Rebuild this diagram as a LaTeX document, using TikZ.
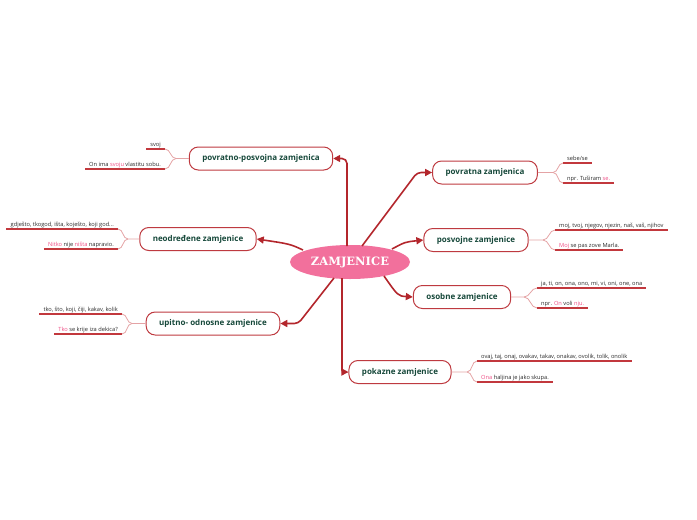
\documentclass[tikz,border=0pt]{standalone}
\usepackage{fontspec}
\setmainfont{Open Sans}
\newfontfamily\slabfont{DejaVu Serif}
\usetikzlibrary{shapes.geometric,arrows.meta,calc}
\definecolor{zpink}{HTML}{F2709C}
\definecolor{zred}{HTML}{B3262C}
\definecolor{zborder}{HTML}{BE3A40}
\definecolor{zfork}{HTML}{E4A3A5}
\definecolor{zline}{HTML}{C2383D}
\definecolor{zgreen}{HTML}{16483A}
\definecolor{zhlc}{HTML}{EE4F86}
\definecolor{zgray}{HTML}{2A2A2A}
\newcommand\zhl[1]{\textcolor{zhlc}{#1}}
\begin{document}
\begin{tikzpicture}[x=1pt,y=-1pt,
 topic/.style={draw=zborder, line width=1pt, fill=white, rounded corners=9pt, minimum height=23pt, inner xsep=13pt, font=\fontsize{8}{9}\selectfont\bfseries, text=zgreen},
 central/.style={ellipse, fill=zpink, minimum width=120pt, minimum height=34pt, inner sep=0pt, text=white, font=\slabfont\bfseries\fontsize{11.5}{13}\selectfont},
 conn/.style={draw=zred, line width=1.6pt, -{Triangle[width=7pt,length=7pt]}},
 fork/.style={draw=zfork, line width=0.8pt},
 sub/.style={font=\fontsize{5.7}{7}\selectfont, text=zgray, inner xsep=4pt, inner ysep=1.5pt, text height=4.4pt, text depth=1.3pt},
 uline/.style={draw=zline, line width=1.2pt},
]
\useasboundingbox (0,0) rectangle (697,520);

\node[central] (zc) at (350,262) {ZAMJENICE};

\node[topic] (n1) at (261,158.5) {povratno-posvojna zamjenica};
\node[topic] (n2) at (198,239) {neodređene zamjenice};
\node[topic] (n3) at (213,323.5) {upitno- odnosne zamjenice};
\node[topic] (n4) at (485,172.5) {povratna zamjenica};
\node[topic] (n5) at (476,240) {posvojne zamjenice};
\node[topic] (n6) at (462,297) {osobne zamjenice};
\node[topic] (n7) at (400,372) {pokazne zamjenice};

% connectors
\coordinate (s1) at (347,246);
\coordinate (s2) at (303,250);
\coordinate (s3) at (334,278);
\coordinate (s4) at (362,246);
\coordinate (s5) at (392,249);
\coordinate (s6) at (384,276);
\coordinate (s7) at (342,278);
\draw[conn, rounded corners=5pt] (s1) |- (n1.east);
\draw[conn] (s2) .. controls (290,244) .. (n2.east);
\draw[conn, rounded corners=4pt] (s3) -- ($(n3.east)+(18,0)$) -- (n3.east);
\draw[conn, rounded corners=4pt] (s4) -- ($(n4.west)+(-15,0)$) -- (n4.west);
\draw[conn] (s5) .. controls (405,242) .. (n5.west);
\draw[conn] (s6) .. controls (398,296) .. (n6.west);
\draw[conn, rounded corners=2pt] (s7) |- (n7.west);

% sub texts, left
\node[sub, anchor=south east] (t1a) at (165,149) {svoj};
\node[sub, anchor=south east] (t1b) at (165,169) {On ima \zhl{svoju} vlastitu sobu.};
\node[sub, anchor=south east] (t2a) at (118,229) {gdješto, tkogod, išta, koješto, koji god...};
\node[sub, anchor=south east] (t2b) at (118,249) {\zhl{Nitko} nije \zhl{ništa} napravio.};
\node[sub, anchor=south east] (t3a) at (122,314) {tko, što, koji, čiji, kakav, kolik};
\node[sub, anchor=south east] (t3b) at (122,334) {\zhl{Tko} se krije iza dekica?};
% sub texts, right
\node[sub, anchor=south west] (t4a) at (563,163) {sebe/se};
\node[sub, anchor=south west] (t4b) at (563,183) {npr. Tuširam \zhl{se.}};
\node[sub, anchor=south west] (t5a) at (555,230) {moj, tvoj, njegov, njezin, naš, vaš, njihov};
\node[sub, anchor=south west] (t5b) at (555,250) {\zhl{Moj} se pas zove Marla.};
\node[sub, anchor=south west] (t6a) at (537,288) {ja, ti, on, ona, ono, mi, vi, oni, one, ona};
\node[sub, anchor=south west] (t6b) at (537,308) {npr. \zhl{On} voli \zhl{nju.}};
\node[sub, anchor=south west] (t7a) at (477,361) {ovaj, taj, onaj, ovakav, takav, onakav, ovolik, tolik, onolik};
\node[sub, anchor=south west] (t7b) at (477,382) {\zhl{Ona} haljina je jako skupa.};

% underlines
\foreach \t in {t1a,t1b,t2a,t2b,t3a,t3b,t4a,t4b,t5a,t5b,t6a,t6b,t7a,t7b}
  \draw[uline] (\t.south west) -- (\t.south east);

% forks left
\coordinate (f1) at (176,158.5);
\coordinate (f2) at (128,239);
\coordinate (f3) at (132,323.5);
\draw[fork] (n1.west) -- (f1) to[out=180,in=0] (t1a.south east);
\draw[fork] (f1) to[out=180,in=0] (t1b.south east);
\draw[fork] (n2.west) -- (f2) to[out=180,in=0] (t2a.south east);
\draw[fork] (f2) to[out=180,in=0] (t2b.south east);
\draw[fork] (n3.west) -- (f3) to[out=180,in=0] (t3a.south east);
\draw[fork] (f3) to[out=180,in=0] (t3b.south east);
% forks right
\coordinate (f4) at (553,172.5);
\coordinate (f5) at (543,240);
\coordinate (f6) at (524,297);
\coordinate (f7) at (467,372);
\draw[fork] (n4.east) -- (f4) to[out=0,in=180] (t4a.south west);
\draw[fork] (f4) to[out=0,in=180] (t4b.south west);
\draw[fork] (n5.east) -- (f5) to[out=0,in=180] (t5a.south west);
\draw[fork] (f5) to[out=0,in=180] (t5b.south west);
\draw[fork] (n6.east) -- (f6) to[out=0,in=180] (t6a.south west);
\draw[fork] (f6) to[out=0,in=180] (t6b.south west);
\draw[fork] (n7.east) -- (f7) to[out=0,in=180] (t7a.south west);
\draw[fork] (f7) to[out=0,in=180] (t7b.south west);
\end{tikzpicture}
\end{document}
